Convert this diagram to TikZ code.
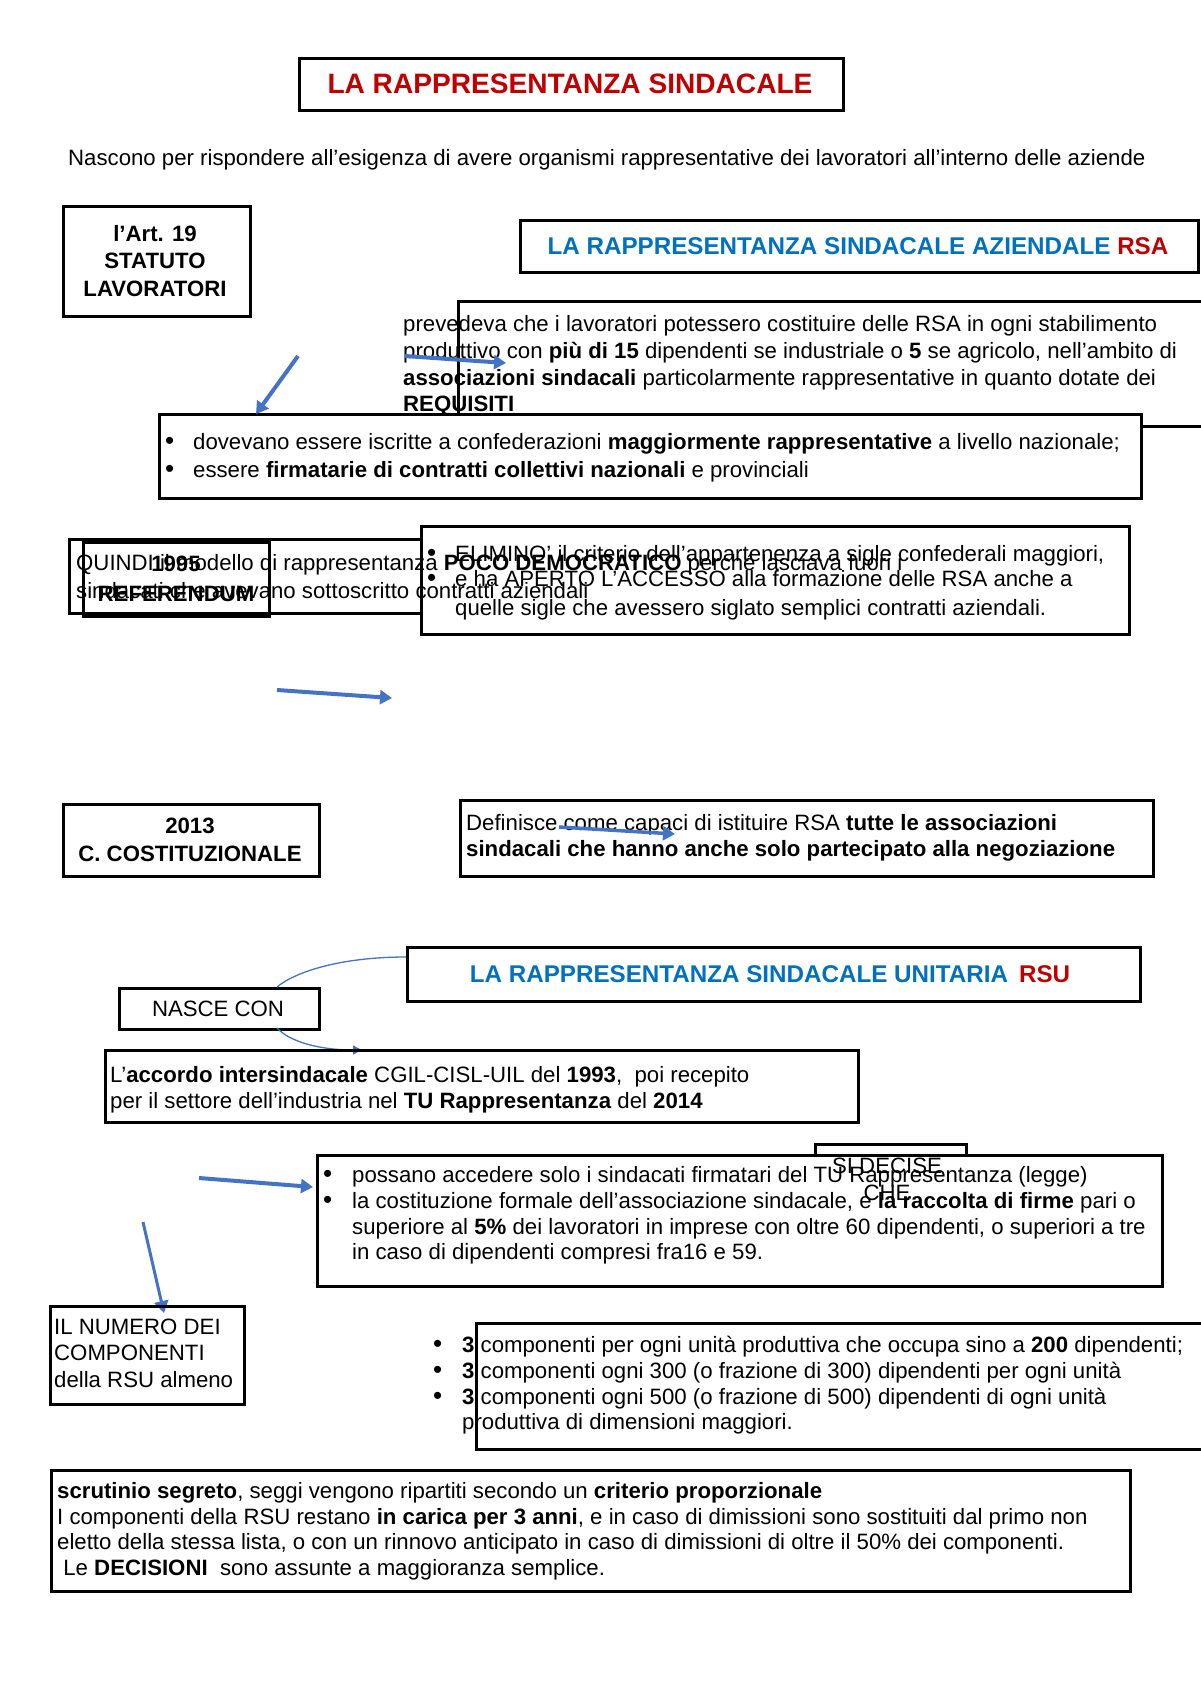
\documentclass[tikz,border=0pt]{standalone}
\usepackage{fontspec}
\setmainfont{Liberation Sans}
\usetikzlibrary{arrows.meta}
\definecolor{tblue}{RGB}{0,112,192}
\definecolor{tred}{RGB}{192,0,0}
\definecolor{ablue}{RGB}{68,114,196}
\newcommand{\bul}[1]{\makebox[#1][l]{\hspace{1pt}{\fontsize{26}{26}\selectfont •}}}
\tikzset{
  box/.style={draw=black, line width=2.5pt, inner sep=0pt, anchor=north west},
  wbox/.style={box, fill=white},
  ln/.style={anchor=base west, inner sep=0pt, font=\fontsize{22.2}{25}\selectfont},
  lnc/.style={anchor=base, inner sep=0pt, font=\fontsize{22.2}{25}\selectfont},
  lncb/.style={anchor=base, inner sep=0pt, font=\fontsize{22.2}{25}\selectfont\bfseries},
  hdr/.style={anchor=base, inner sep=0pt, font=\fontsize{24.2}{28}\selectfont\bfseries},
  barrow/.style={draw=ablue, line width=4pt, -{Triangle[length=12pt,width=14pt]}},
  thin/.style={draw=ablue, line width=1.3pt},
}
\begin{document}
\begin{tikzpicture}[x=1pt,y=-1pt]
\useasboundingbox (0,0) rectangle (1200,1698);
% title
\node[box, minimum width=544pt, minimum height=52pt] (tbox) at (298,57) {};
\node[lncb, font=\fontsize{28.1}{32}\selectfont\bfseries, text=tred] (ttl) at (570,93) {LA RAPPRESENTANZA SINDACALE};
\node[ln] (nasc) at (68,165) {Nascono per rispondere all'esigenza di avere organismi rappresentative dei lavoratori all'interno delle aziende};
% art 19
\node[box, minimum width=187pt, minimum height=110pt] (art) at (62,205) {};
\node[lncb] (a1) at (155,241) {l'Art. 19};
\node[lncb] (a2) at (155,268) {STATUTO};
\node[lncb] (a3) at (155,296) {LAVORATORI};
% RSA header
\node[box, minimum width=678pt, minimum height=52pt] (rsa) at (519,219) {};
\node[hdr] (rsat) at (858,254) {\textcolor{tblue}{LA RAPPRESENTANZA SINDACALE AZIENDALE} \textcolor{tred}{RSA}};
% prevedeva box
\node[box, minimum width=760pt, minimum height=125pt] (prev) at (457,300) {};
\node[ln] (p1) at (403,331) {prevedeva che i lavoratori potessero costituire delle RSA in ogni stabilimento};
\node[ln] (p2) at (403,358) {produttivo con \textbf{più di 15} dipendenti se industriale o \textbf{5} se agricolo, nell'ambito di};
\node[ln] (p3) at (403,385) {\textbf{associazioni sindacali} particolarmente rappresentative in quanto dotate dei};
\node[ln] (p4) at (403,411) {\textbf{REQUISITI}};
\coordinate (pa1) at (405,356); \coordinate (pa2) at (506,363);
\draw[barrow] (pa1) -- (pa2);
% requisiti bullets
\node[wbox, minimum width=982pt, minimum height=84pt] (req) at (158,413) {};
\node[ln] (r1) at (164,449) {\bul{29pt}dovevano essere iscritte a confederazioni \textbf{maggiormente rappresentative} a livello nazionale;};
\node[ln] (r2) at (164,477) {\bul{29pt}essere \textbf{firmatarie di contratti collettivi nazionali} e provinciali};
\coordinate (aa1) at (298,356); \coordinate (aa2) at (256,414);
\draw[barrow] (aa1) -- (aa2);
% 1995
\node[box, minimum width=352pt, minimum height=74pt] (quindi) at (68,538) {};
\node[wbox, minimum width=708pt, minimum height=108pt] (elim) at (420,525) {};
\node[ln] (e1) at (426,561) {\bul{29pt}ELIMINO' il criterio dell'appartenenza a sigle confederali maggiori,};
\node[ln] (e2) at (426,586) {\bul{29pt}e ha APERTO L'ACCESSO alla formazione delle RSA anche a};
\node[ln] (e3) at (455,615) {quelle sigle che avessero siglato semplici contratti aziendali.};
\node[ln] (q1) at (76,570) {QUINDI il modello di rappresentanza \textbf{POCO DEMOCRATICO} perché lasciava fuori i};
\node[ln] (q2) at (76,598) {sindacati che avevano sottoscritto contratti aziendali};
\node[box, minimum width=186pt, minimum height=74pt] (y95) at (82,541) {};
\node[lncb] (y95a) at (176,571) {1995};
\node[lncb] (y95b) at (176,601) {REFERENDUM};
\coordinate (ra1) at (277,690); \coordinate (ra2) at (392,698);
\draw[barrow] (ra1) -- (ra2);
% 2013
\node[box, minimum width=256pt, minimum height=72pt] (y13) at (62,803) {};
\node[lncb] (y13a) at (190,833) {2013};
\node[lncb] (y13b) at (190,861) {C. COSTITUZIONALE};
\node[box, minimum width=693pt, minimum height=76pt] (def) at (459,799) {};
\node[ln] (d1) at (466,830) {Definisce come capaci di istituire RSA \textbf{tutte le associazioni}};
\node[ln] (d2) at (466,856) {\textbf{sindacali che hanno anche solo partecipato alla negoziazione}};
\coordinate (da1) at (559,827); \coordinate (da2) at (675,834);
\draw[barrow, line width=3.5pt] (da1) -- (da2);
% RSU
\node[box, minimum width=733pt, minimum height=54pt] (rsu) at (406,946) {};
\node[hdr] (rsut) at (770,982) {\textcolor{tblue}{LA RAPPRESENTANZA SINDACALE UNITARIA}\hspace{11pt}\textcolor{tred}{RSU}};
\node[box, minimum width=200pt, minimum height=41pt] (nasce) at (118,987) {};
\node[lnc] (nascet) at (218,1016) {NASCE CON};
\coordinate (c1) at (406,957); \coordinate (c2) at (277,987);
\draw[thin] (c1) .. controls (340,957) and (295,972) .. (c2);
\coordinate (c3) at (277,1028); \coordinate (c4) at (362,1050);
\draw[thin, -{Triangle[length=9pt,width=9pt]}] (c3) .. controls (290,1042) and (320,1050) .. (c4);
\node[box, minimum width=753pt, minimum height=72pt] (acc) at (104,1049) {};
\node[ln] (ac1) at (110,1082) {L'\textbf{accordo intersindacale} CGIL-CISL-UIL del \textbf{1993},\ \ poi recepito};
\node[ln] (ac2) at (110,1108) {per il settore dell'industria nel \textbf{TU Rappresentanza} del \textbf{2014}};
% si decise
\node[box, minimum width=151pt, minimum height=20pt] (sid) at (814,1143) {};
\node[wbox, minimum width=845pt, minimum height=131pt] (blt) at (316,1154) {};
\node[ln] (b1) at (322,1182) {\bul{30pt}possano accedere solo i sindacati firmatari del TU Rappresentanza (legge)};
\node[ln] (b2) at (322,1208) {\bul{30pt}la costituzione formale dell'associazione sindacale, e \textbf{la raccolta di firme} pari o};
\node[ln] (b3) at (352,1234) {superiore al \textbf{5\%} dei lavoratori in imprese con oltre 60 dipendenti, o superiori a tre};
\node[ln] (b4) at (352,1259) {in caso di dipendenti compresi fra16 e 59.};
\node[lnc] (sid1) at (887,1173) {SI DECISE};
\node[lnc] (sid2) at (887,1200) {CHE};
\coordinate (ba1) at (199,1178); \coordinate (ba2) at (313,1187);
\draw[barrow] (ba1) -- (ba2);
\coordinate (na1) at (143,1222); \coordinate (na2) at (164,1313);
\draw[barrow, line width=3pt] (na1) -- (na2);
% numero
\node[box, minimum width=194pt, minimum height=98pt] (num) at (49,1305) {};
\node[ln] (n1) at (54,1334) {IL NUMERO DEI};
\node[ln] (n2) at (54,1360) {COMPONENTI};
\node[ln] (n3) at (54,1387) {della RSU almeno};
\node[box, minimum width=760pt, minimum height=126pt] (comp) at (475,1322) {};
\node[ln] (k1) at (432,1352) {\bul{30pt}\textbf{3} componenti per ogni unità produttiva che occupa sino a \textbf{200} dipendenti;};
\node[ln] (k2) at (432,1378) {\bul{30pt}\textbf{3} componenti ogni 300 (o frazione di 300) dipendenti per ogni unità};
\node[ln] (k3) at (432,1404) {\bul{30pt}\textbf{3} componenti ogni 500 (o frazione di 500) dipendenti di ogni unità};
\node[ln] (k4) at (462,1429) {produttiva di dimensioni maggiori.};
% final
\node[box, minimum width=1079pt, minimum height=121pt] (fin) at (50,1469) {};
\node[ln] (f1) at (57,1498) {\textbf{scrutinio segreto}, seggi vengono ripartiti secondo un \textbf{criterio proporzionale}};
\node[ln] (f2) at (57,1524) {I componenti della RSU restano \textbf{in carica per 3 anni}, e in caso di dimissioni sono sostituiti dal primo non};
\node[ln] (f3) at (57,1549) {eletto della stessa lista, o con un rinnovo anticipato in caso di dimissioni di oltre il 50\% dei componenti.};
\node[ln] (f4) at (57,1575) {\ Le \textbf{DECISIONI}\ \ sono assunte a maggioranza semplice.};
\end{tikzpicture}
\end{document}
